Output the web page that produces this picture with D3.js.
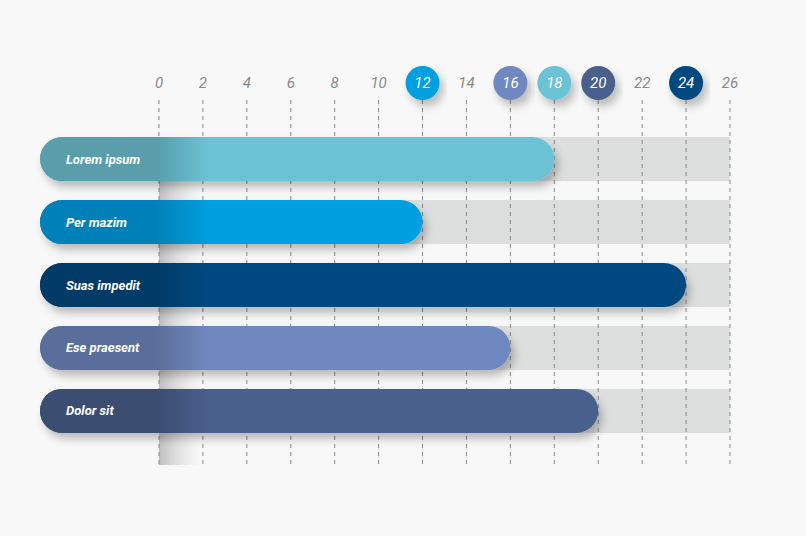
<!DOCTYPE html>
<html><head><meta charset="utf-8">
<script src="https://cdn.jsdelivr.net/npm/d3@7"></script>
<style>body{margin:0;background:#f8f8f8;font-family:Roboto,sans-serif}</style>
</head><body><div id="chart"></div>
<script>
// data
var categories = ["Lorem ipsum", "Per mazim", "Suas impedit", "Ese praesent", "Dolor sit"];
var values = [18, 12, 24, 16, 20];
var barColors = ["#6cc3d5", "#009fe0", "#004a80", "#7088c0", "#4a5f8c"];
var labelColors = ["#5a9eab", "#0080b8", "#003a66", "#5a6e9c", "#3c4d72"];
var tickValues = d3.range(0, 27, 2);

var width = 806, height = 536;
var svg = d3.select("#chart").append("svg").attr("width", width).attr("height", height);
var defs = svg.append("defs");

var x = d3.scaleLinear().domain([0, 26]).range([159, 730]);
var y = d3.scaleBand().domain(categories).range([137, 433]).paddingInner(0.3).paddingOuter(0);

// shadow filter
var f = defs.append("filter").attr("id", "sh").attr("x", "-10%").attr("y", "-30%").attr("width", "130%").attr("height", "180%");
f.append("feDropShadow").attr("dx", 4).attr("dy", 6).attr("stdDeviation", 4).attr("flood-color", "#000").attr("flood-opacity", 0.25);

// gradient for the inner shade after the label
var g1 = defs.append("linearGradient").attr("id", "shade");
g1.append("stop").attr("offset", "0%").attr("stop-color", "#000").attr("stop-opacity", 0.18);
g1.append("stop").attr("offset", "100%").attr("stop-color", "#000").attr("stop-opacity", 0);

var g2 = defs.append("linearGradient").attr("id", "colshade");
g2.append("stop").attr("offset", "0%").attr("stop-color", "#999").attr("stop-opacity", 0.6);
g2.append("stop").attr("offset", "100%").attr("stop-color", "#ccc").attr("stop-opacity", 0);

// background tracks
svg.selectAll("rect.track").data(categories).enter().append("rect")
  .attr("x", x(0)).attr("y", d => y(d)).attr("width", x(26) - x(0)).attr("height", y.bandwidth())
  .attr("fill", "#dcdfdd");

// shaded column under label edge
svg.append("rect").attr("x", x(0)).attr("y", 137).attr("width", 42).attr("height", 328).attr("fill", "url(#colshade)");

// gridlines
svg.selectAll("line.grid").data(tickValues).enter().append("line")
  .attr("x1", d => x(d)).attr("x2", d => x(d)).attr("y1", 100).attr("y2", 465)
  .attr("stroke", "#888").attr("stroke-dasharray", "4,4").attr("stroke-width", 1);

// bars
var bars = svg.selectAll("g.bar").data(categories).enter().append("g");
bars.append("rect")
  .attr("x", 40).attr("y", d => y(d))
  .attr("width", (d, i) => x(values[i]) - 40).attr("height", y.bandwidth())
  .attr("rx", 22).attr("fill", (d, i) => barColors[i]).attr("filter", "url(#sh)");
bars.append("path")
  .attr("d", d => { var t = y(d), h = y.bandwidth(), r = h / 2;
    return "M" + x(0) + "," + t + "H" + (40 + r) + "A" + r + "," + r + " 0 0 0 " + (40 + r) + "," + (t + h) + "H" + x(0) + "Z"; })
  .attr("fill", (d, i) => labelColors[i]);
bars.append("rect")
  .attr("x", x(0)).attr("y", d => y(d)).attr("width", 50).attr("height", y.bandwidth())
  .attr("fill", "url(#shade)");
bars.append("text")
  .attr("x", 66).attr("y", d => y(d) + y.bandwidth() / 2 + 4.5)
  .attr("fill", "#fff").attr("font-size", 13).attr("font-weight", "bold").attr("font-style", "italic")
  .text(d => d);

// tick labels with highlight circles
var ticks = svg.selectAll("g.tick").data(tickValues).enter().append("g")
  .attr("transform", d => "translate(" + x(d) + ",83)");
ticks.filter(d => values.indexOf(d) >= 0).append("circle")
  .attr("r", 17).attr("fill", d => barColors[values.indexOf(d)]).attr("filter", "url(#sh)");
ticks.append("text").attr("text-anchor", "middle").attr("dy", 5)
  .attr("font-size", 15).attr("font-style", "italic")
  .attr("fill", d => values.indexOf(d) >= 0 ? "#fff" : "#8a8a8a")
  .text(d => d);
</script></body></html>
